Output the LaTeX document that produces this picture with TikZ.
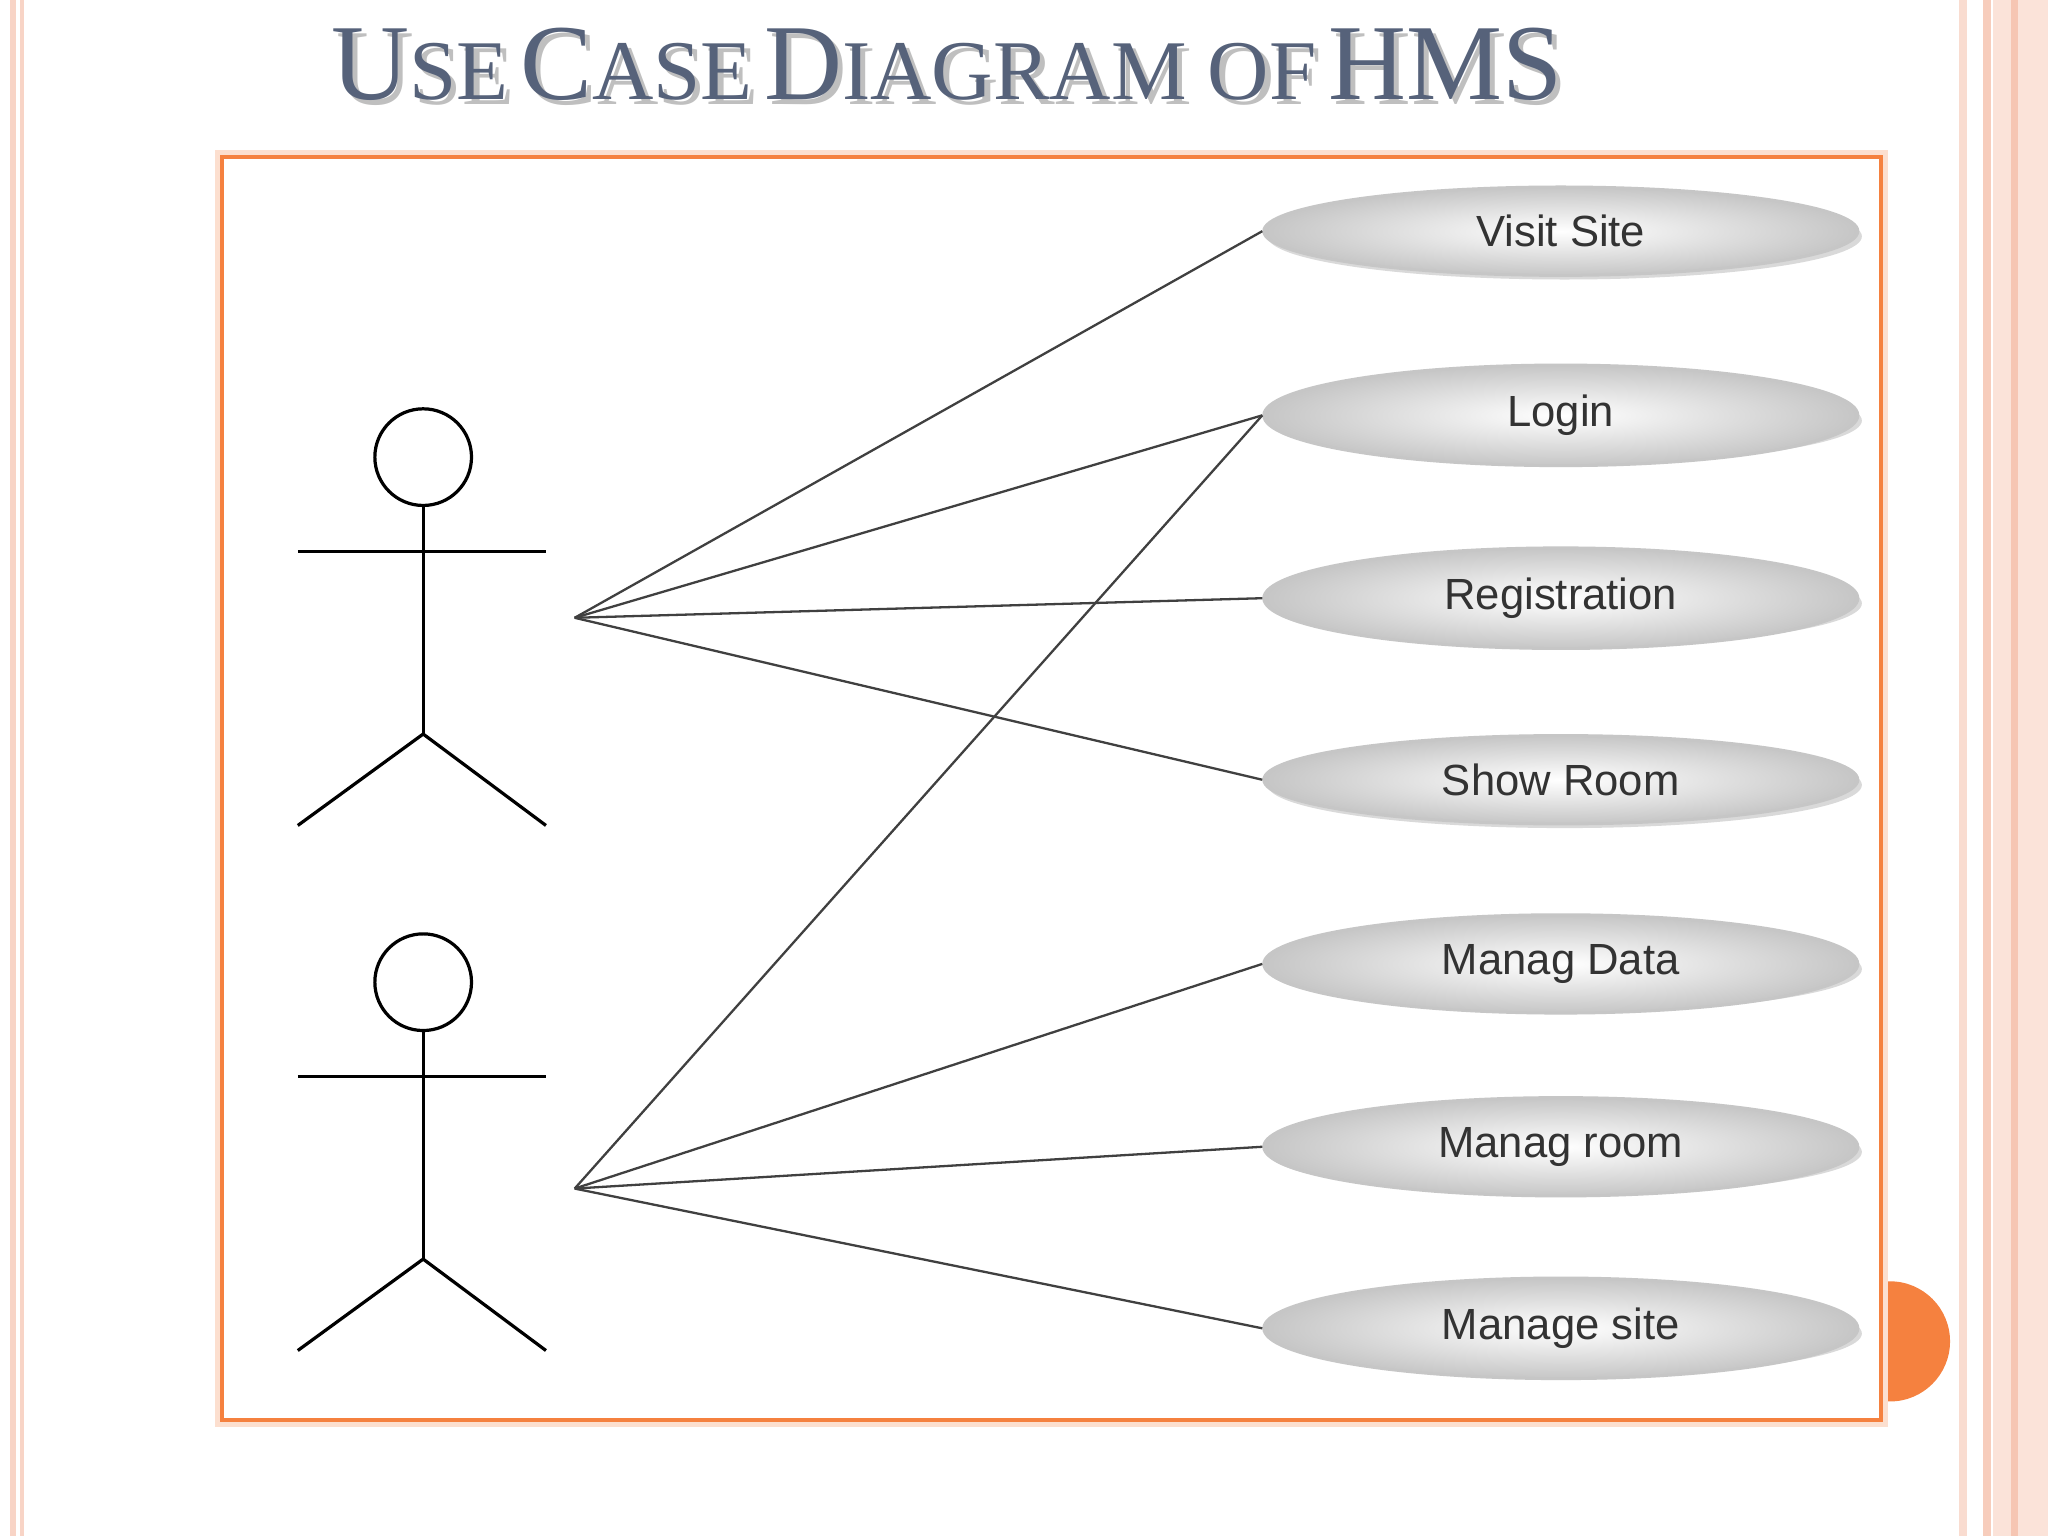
\documentclass[tikz,border=0pt]{standalone}
\usepackage{fontspec}
\setmainfont{Liberation Serif}
\newfontfamily\arialf{Liberation Sans}
\usetikzlibrary{shapes.geometric}
\definecolor{salmon}{HTML}{F4B8A0}
\definecolor{orng}{HTML}{F5813F}
\definecolor{titlec}{HTML}{56627A}
\newcommand{\bigc}[1]{{\fontsize{23.5}{28}\selectfont #1}}
\newcommand{\smc}[1]{{\fontsize{18.5}{22}\selectfont #1}}
\newcommand{\ttl}{\bigc{U}\smc{SE}\ \bigc{C}\smc{ASE}\ \bigc{D}\smc{IAGRAM OF}\ \bigc{HMS}}
\tikzset{
  uc/.style={ellipse, minimum width=455*0.01cm, minimum height=66*0.01cm, inner color=white, outer color=gray!45, draw=gray!45, line width=0.6pt, text=black!80, font=\arialf\fontsize{9.5}{11}\selectfont},
  actor/.style={line width=0.7pt, black},
  link/.style={line width=0.5pt, black!75}
}
\begin{document}
\begin{tikzpicture}[x=0.01cm,y=0.01cm]
\useasboundingbox[fill=white] (0,0) rectangle (1568,-1176);
% borders
\fill[salmon!60] (8,0) rectangle (12,-1176);
\fill[salmon!60] (15,0) rectangle (18,-1176);
\fill[salmon!50] (1500,0) rectangle (1506,-1176);
\fill[salmon!70] (1518,0) rectangle (1524,-1176);
\fill[salmon!40] (1526,0) rectangle (1568,-1176);
\fill[salmon!80] (1540,0) rectangle (1545,-1176);
% title
\node[text=black!25] at (729,-53) {\ttl};
\node[text=titlec] (title) at (725,-49) {\ttl};
% orange circle
\fill[orng] (1447,-1027) circle (46);
% frame
\draw[orng!25, line width=3pt] (170,-120) rectangle (1440,-1087);
\filldraw[fill=white, draw=orng, line width=0.8pt] (170,-120) rectangle (1440,-1087);
% actors
\foreach \y in {0,402}{
  \draw[actor] (324,-350-\y) circle (37);
  \draw[actor] (228,-422-\y) -- (418,-422-\y);
  \draw[actor] (324,-387-\y) -- (324,-562-\y);
  \draw[actor] (228,-632-\y) -- (324,-562-\y) -- (418,-632-\y);
}
\coordinate (p1) at (440,-473);
\coordinate (p2) at (440,-910);
% use cases
\foreach \n/\y/\t in {u1/177/Visit Site,u2/318/Login,u3/458/Registration,u4/597/Show Room,u5/738/Manag Data,u6/878/Manag room,u7/1017/Manage site}{
  \fill[gray!30] (1198,-\y-4) ellipse (227.5 and 33);
  \node[uc] (\n) at (1195,-\y) {\t};
}
\foreach \n in {u1,u2,u3,u4} \draw[link] (p1) -- (\n.west);
\foreach \n in {u2,u5,u6,u7} \draw[link] (p2) -- (\n.west);
\end{tikzpicture}
\end{document}
